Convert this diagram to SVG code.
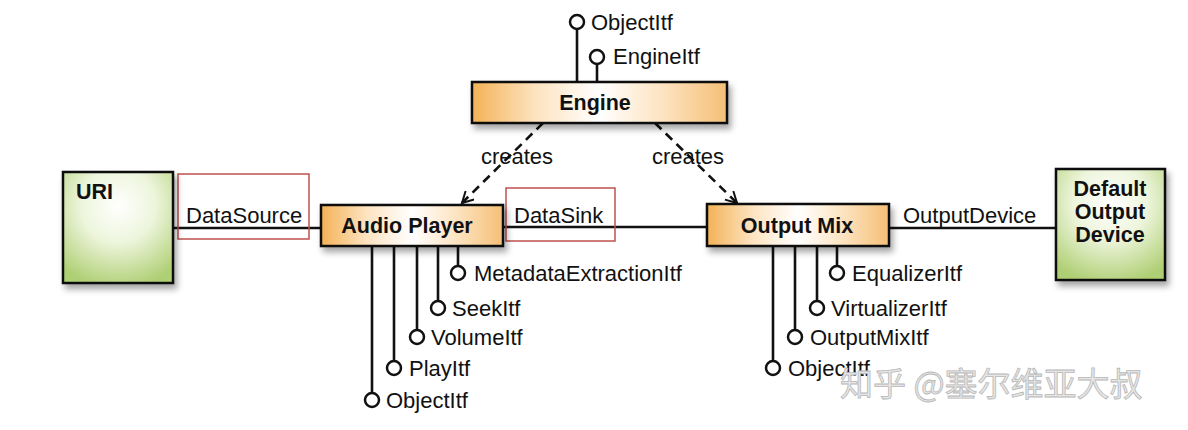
<svg xmlns="http://www.w3.org/2000/svg" width="1188" height="430" viewBox="0 0 1188 430">
<defs>
<linearGradient id="og" x1="0" y1="0" x2="1" y2="0">
<stop offset="0" stop-color="#f3b257"/>
<stop offset="0.25" stop-color="#fde3c0"/>
<stop offset="0.5" stop-color="#ffffff"/>
<stop offset="0.75" stop-color="#fde3c0"/>
<stop offset="1" stop-color="#f5bf76"/>
</linearGradient>
<radialGradient id="gg" cx="0.5" cy="0.3" r="0.75">
<stop offset="0" stop-color="#ffffff"/>
<stop offset="0.45" stop-color="#edf5dc"/>
<stop offset="1" stop-color="#afcf74"/>
</radialGradient>
<filter id="sh" x="-10%" y="-20%" width="130%" height="160%">
<feDropShadow dx="3" dy="5" stdDeviation="3" flood-color="#000" flood-opacity="0.35"/>
</filter>
<marker id="arr" viewBox="0 0 14 14" refX="12" refY="7" markerWidth="14" markerHeight="14" markerUnits="userSpaceOnUse" orient="auto">
<path d="M1,1 L12,7 L1,13" fill="none" stroke="#111" stroke-width="2"/>
</marker>
</defs>
<style>
.box{stroke:#111;stroke-width:2.5}
.ln{stroke:#111;stroke-width:2.6;fill:none}
.cir{stroke:#111;stroke-width:2.5;fill:#fff}
.t{font-family:"Liberation Sans",Arial,sans-serif;font-size:22px;fill:#111}
.b{font-family:"Liberation Sans",Arial,sans-serif;font-size:21.5px;font-weight:bold;fill:#111}
.red{fill:none;stroke:#c0504d;stroke-width:1.5}
.wm{font-family:"Noto Sans CJK SC",sans-serif;font-size:33px;fill:#e6e6e6;stroke:#b8b8b8;stroke-width:0.8}
</style>
<rect width="1188" height="430" fill="#fff"/>

<g id="connectors">
<line class="ln" x1="173" y1="228" x2="321" y2="228"/>
<line class="ln" x1="503" y1="227" x2="707" y2="227"/>
<line class="ln" x1="889" y1="228" x2="1056" y2="228"/>
<line class="ln" x1="543" y1="123" x2="462" y2="203" stroke-dasharray="9,6" marker-end="url(#arr)"/>
<line class="ln" x1="655" y1="123" x2="737" y2="203" stroke-dasharray="9,6" marker-end="url(#arr)"/>
<text class="t" x="517" y="164" text-anchor="middle">creates</text>
<text class="t" x="688" y="164" text-anchor="middle">creates</text>
<rect class="red" x="178" y="174" width="131" height="65"/>
<text class="t" x="186" y="223">DataSource</text>
<rect class="red" x="506" y="188" width="109" height="53"/>
<text class="t" x="514" y="223">DataSink</text>
<text class="t" x="903" y="223">OutputDevice</text>
</g>

<g id="engine">
<line class="ln" x1="577" y1="29" x2="577" y2="82"/>
<circle class="cir" cx="577" cy="22" r="7"/>
<text class="t" x="591" y="30">ObjectItf</text>
<line class="ln" x1="597" y1="64" x2="597" y2="82"/>
<circle class="cir" cx="597" cy="57" r="7"/>
<text class="t" x="613" y="64">EngineItf</text>
<rect class="box" x="472" y="82" width="255" height="41" fill="url(#og)" filter="url(#sh)"/>
<text class="b" x="595" y="110" text-anchor="middle">Engine</text>
</g>

<g id="uri">
<rect class="box" x="63" y="172" width="110" height="111" fill="url(#gg)" filter="url(#sh)"/>
<text class="b" x="76" y="199">URI</text>
</g>

<g id="audio-player">
<line class="ln" x1="372" y1="246" x2="372" y2="393"/>
<line class="ln" x1="394" y1="246" x2="394" y2="361"/>
<line class="ln" x1="417" y1="246" x2="417" y2="330"/>
<line class="ln" x1="438" y1="246" x2="438" y2="301"/>
<line class="ln" x1="458" y1="246" x2="458" y2="266"/>
<circle class="cir" cx="458" cy="273" r="7"/>
<circle class="cir" cx="438" cy="308" r="7"/>
<circle class="cir" cx="417" cy="337" r="7"/>
<circle class="cir" cx="394" cy="368" r="7"/>
<circle class="cir" cx="372" cy="400" r="7"/>
<text class="t" x="474" y="281">MetadataExtractionItf</text>
<text class="t" x="452" y="316">SeekItf</text>
<text class="t" x="431" y="345">VolumeItf</text>
<text class="t" x="409" y="376">PlayItf</text>
<text class="t" x="386" y="408">ObjectItf</text>
<rect class="box" x="321" y="205" width="182" height="41" fill="url(#og)" filter="url(#sh)"/>
<text class="b" x="407" y="233" text-anchor="middle">Audio Player</text>
</g>

<g id="output-mix">
<line class="ln" x1="773" y1="246" x2="773" y2="361"/>
<line class="ln" x1="795" y1="246" x2="795" y2="330"/>
<line class="ln" x1="817" y1="246" x2="817" y2="301"/>
<line class="ln" x1="837" y1="246" x2="837" y2="266"/>
<circle class="cir" cx="837" cy="273" r="7"/>
<circle class="cir" cx="817" cy="308" r="7"/>
<circle class="cir" cx="795" cy="337" r="7"/>
<circle class="cir" cx="773" cy="368" r="7"/>
<text class="t" x="852" y="281">EqualizerItf</text>
<text class="t" x="831" y="316">VirtualizerItf</text>
<text class="t" x="810" y="345">OutputMixItf</text>
<text class="t" x="788" y="376">ObjectItf</text>
<rect class="box" x="707" y="204" width="182" height="42" fill="url(#og)" filter="url(#sh)"/>
<text class="b" x="797" y="233" text-anchor="middle">Output Mix</text>
</g>

<g id="default-output-device">
<rect class="box" x="1056" y="169" width="109" height="111" fill="url(#gg)" filter="url(#sh)"/>
<text class="b" x="1110" y="196" text-anchor="middle">Default</text>
<text class="b" x="1110" y="219" text-anchor="middle">Output</text>
<text class="b" x="1110" y="242" text-anchor="middle">Device</text>
</g>

<text class="wm" x="840" y="396">知乎 @塞尔维亚大叔</text>
</svg>
